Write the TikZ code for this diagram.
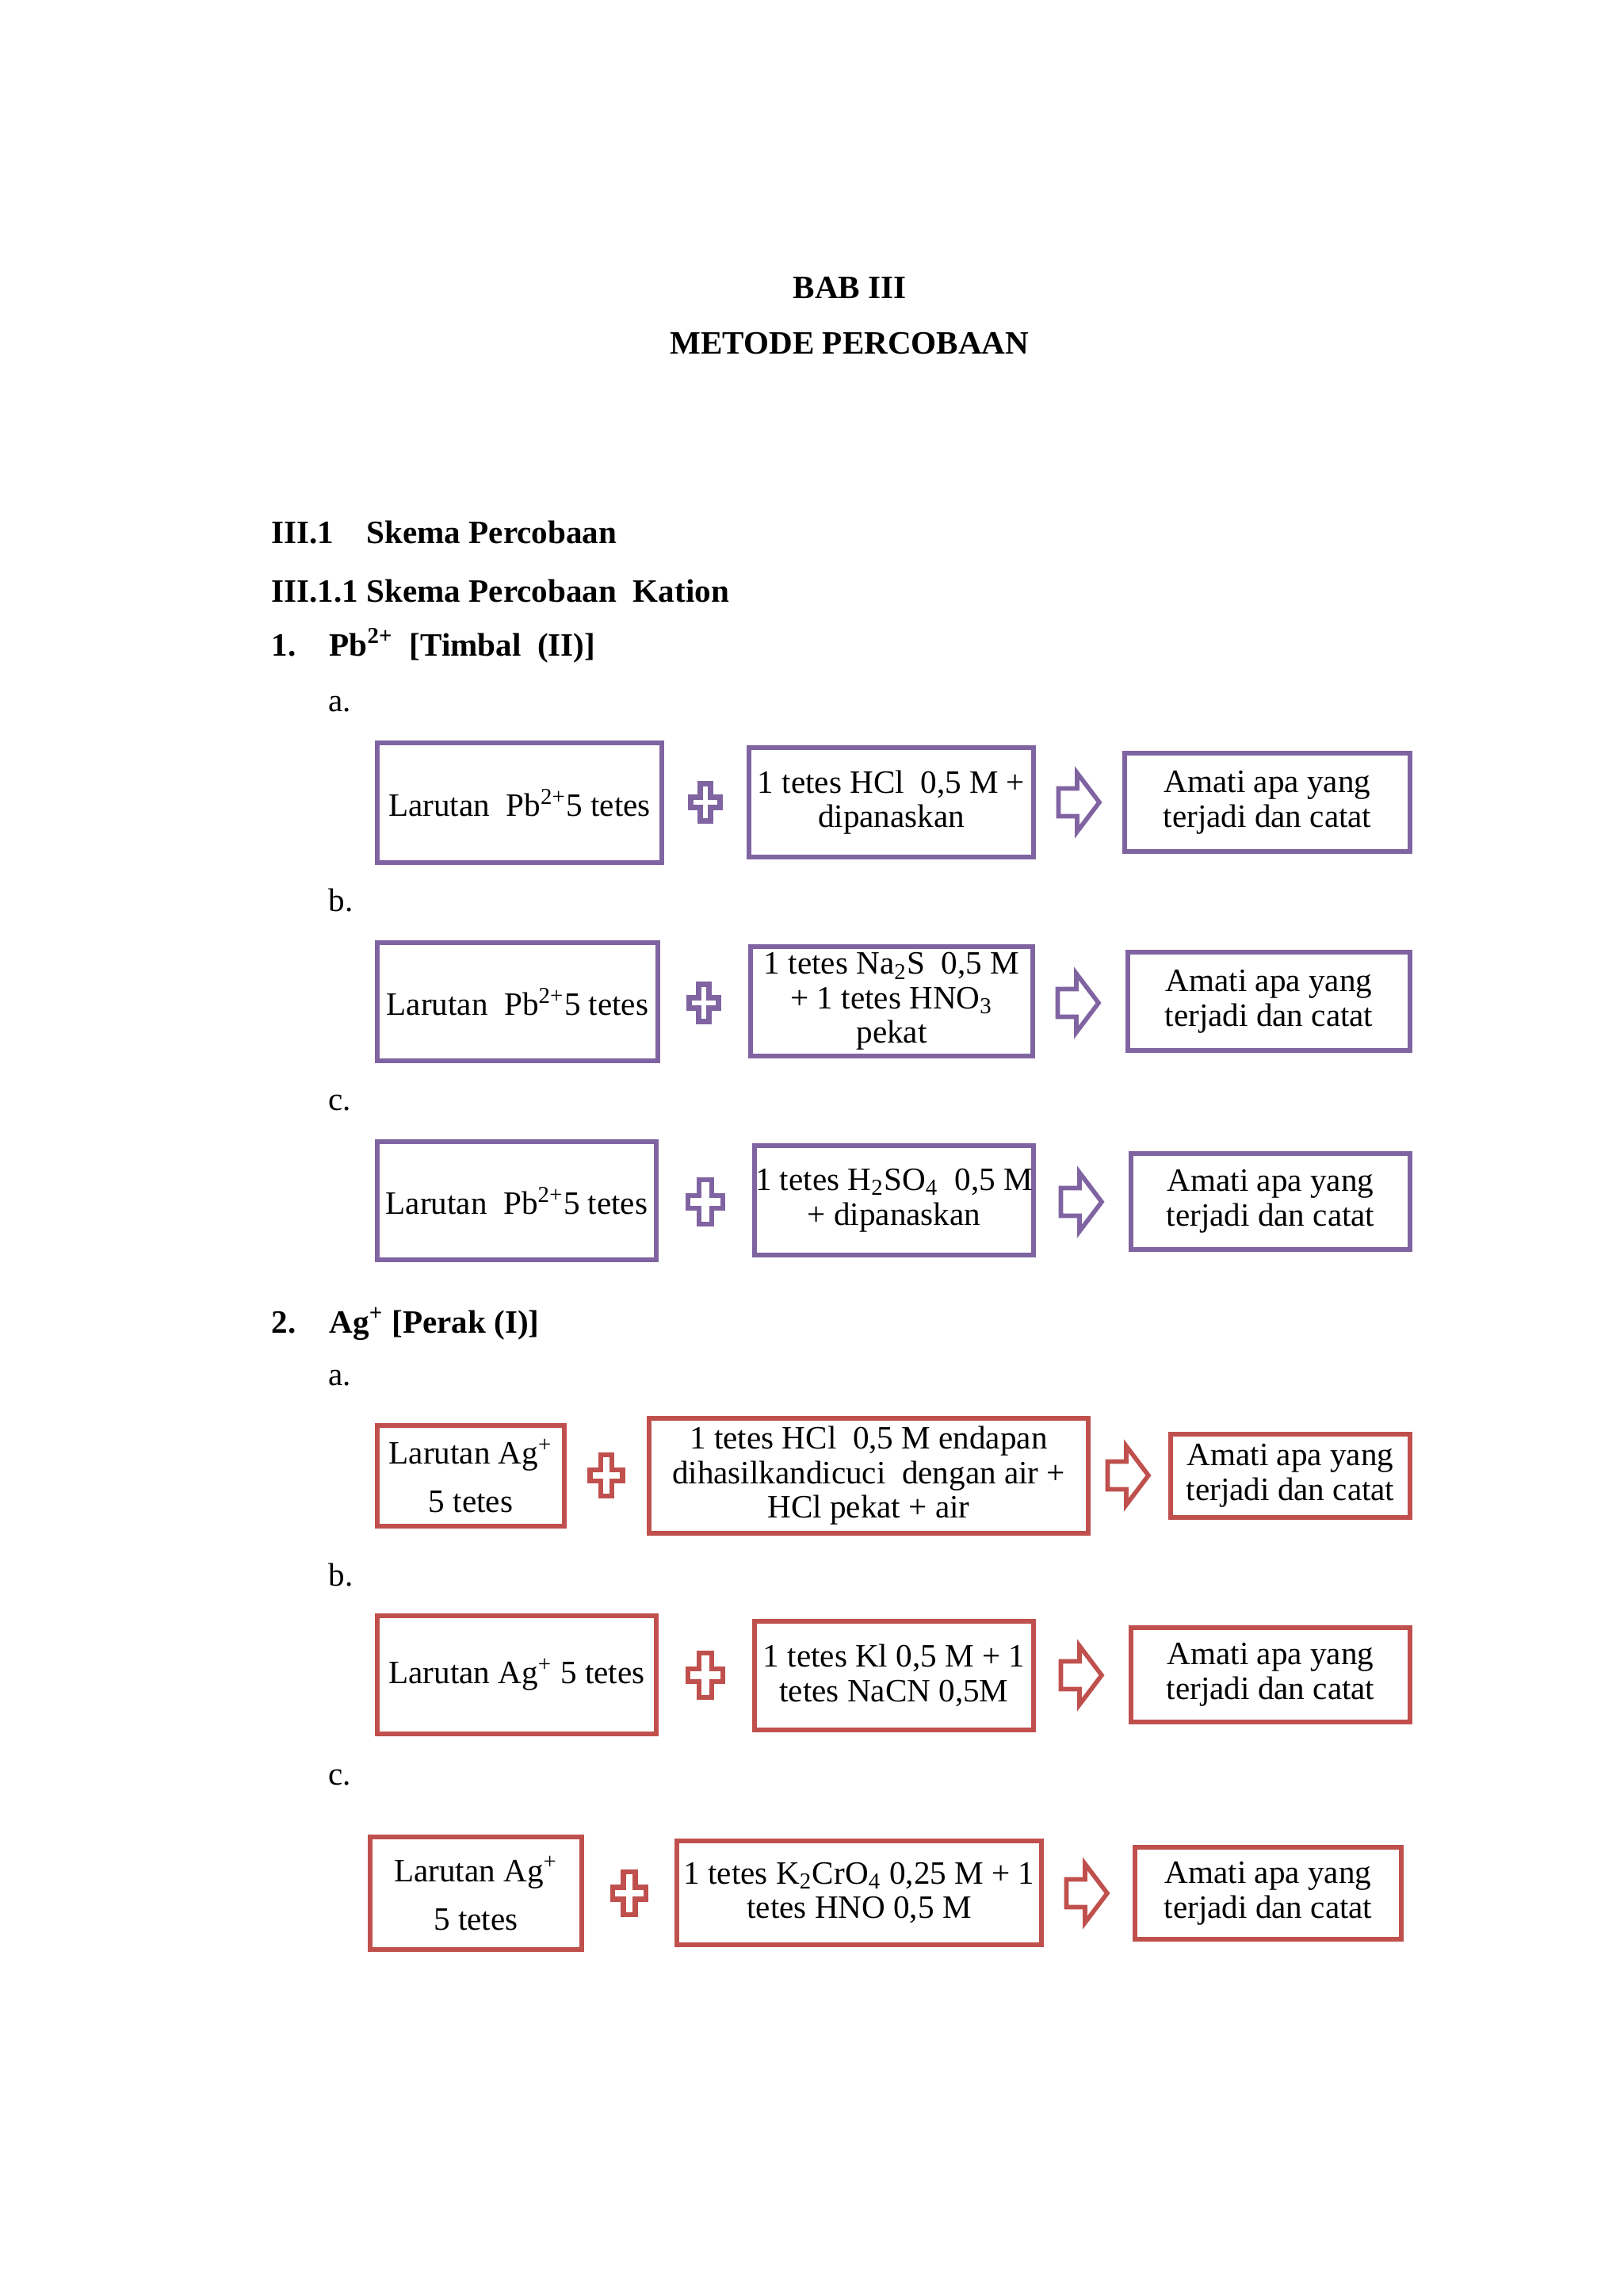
\documentclass[tikz,border=0pt]{standalone}
\usepackage{fontspec}
\setmainfont{Liberation Serif}
\usepackage{tikz}

\definecolor{pbpurple}{HTML}{8064A2}
\definecolor{agred}{HTML}{C0504D}

\begin{document}
\begin{tikzpicture}[
    box/.style={draw, line width=1.6pt, fill=white, align=center, inner sep=0pt,
        font=\fontsize{11.7}{12.4}\selectfont},
    pbbox/.style={box, draw=pbpurple},
    agbox/.style={box, draw=agred},
    heading/.style={anchor=base west, inner sep=0pt, font=\bfseries\fontsize{11.7}{14}\selectfont},
    item/.style={anchor=base west, inner sep=0pt, font=\fontsize{11.7}{14}\selectfont},
    plusmark/.pic={
        \draw[line width=1.8pt, fill=white] (-0.065, 0.235) -- (0.065, 0.235) -- (0.065, 0.065)
            -- (0.185, 0.065) -- (0.185, -0.065) -- (0.065, -0.065) -- (0.065, -0.235)
            -- (-0.065, -0.235) -- (-0.065, -0.065) -- (-0.185, -0.065) -- (-0.185, 0.065)
            -- (-0.065, 0.065) -- cycle;},
    flowarrow/.pic={
        \draw[line width=1.6pt, fill=white] (-0.265, 0.175) -- (-0.03, 0.175) -- (-0.03, 0.37)
            -- (0.25, 0) -- (-0.03, -0.37) -- (-0.03, -0.175) -- (-0.265, -0.175) -- cycle;}
]
    \useasboundingbox[fill=white] (0, 0) rectangle (20.48, -28.96);

    % judul
    \node[heading, anchor=base] (bab) at (10.72, -3.77) {BAB III};
    \node[heading, anchor=base] (metode) at (10.72, -4.47) {METODE PERCOBAAN};
    \node[heading] (sub1) at (3.42, -6.85) {III.1};
    \node[heading] (sub1t) at (4.62, -6.85) {Skema Percobaan};
    \node[heading] (sub2) at (3.42, -7.59) {III.1.1 Skema Percobaan\ \ Kation};

    % 1. Pb
    \node[heading] (no1) at (3.42, -8.27) {1.};
    \node[heading] (pb) at (4.15, -8.27) {Pb\textsuperscript{2+}\ \ [Timbal\ \ (II)]};
    \node[item] (pba) at (4.14, -8.97) {a.};
    \node[pbbox, minimum width=3.59cm, minimum height=1.51cm] (pbA1) at (6.555, -10.125)
        {Larutan\ \ Pb\textsuperscript{2+}5 tetes};
    \node[pbbox, minimum width=3.59cm, minimum height=1.38cm] (pbA2) at (11.245, -10.12)
        {1 tetes HCl\ \ 0,5 M +\\dipanaskan};
    \node[pbbox, minimum width=3.6cm, minimum height=1.24cm] (pbA3) at (15.99, -10.12)
        {Amati\ apa yang\\terjadi\ dan catat};
    \pic[pbpurple] at (8.90, -10.12) {plusmark};
    \pic[pbpurple] at (13.62, -10.12) {flowarrow};

    \node[item] (pbb) at (4.14, -11.49) {b.};
    \node[pbbox, minimum width=3.54cm, minimum height=1.49cm] (pbB1) at (6.53, -12.635)
        {Larutan\ \ Pb\textsuperscript{2+}5 tetes};
    \node[pbbox, minimum width=3.56cm, minimum height=1.38cm] (pbB2) at (11.25, -12.63)
        {1 tetes Na\textsubscript{2}S\ \ 0,5 M\\+ 1 tetes HNO\textsubscript{3}\\pekat};
    \node[pbbox, minimum width=3.56cm, minimum height=1.24cm] (pbB3) at (16.01, -12.63)
        {Amati\ apa yang\\terjadi\ dan catat};
    \pic[pbpurple] at (8.88, -12.65) {plusmark};
    \pic[pbpurple] at (13.61, -12.65) {flowarrow};

    \node[item] (pbc) at (4.14, -14.00) {c.};
    \node[pbbox, minimum width=3.52cm, minimum height=1.49cm] (pbC1) at (6.52, -15.145)
        {Larutan\ \ Pb\textsuperscript{2+}5 tetes};
    \node[pbbox, minimum width=3.52cm, minimum height=1.38cm] (pbC2) at (11.28, -15.14)
        {1 tetes H\textsubscript{2}SO\textsubscript{4}\ \ 0,5 M\\+ dipanaskan};
    \node[pbbox, minimum width=3.52cm, minimum height=1.21cm] (pbC3) at (16.03, -15.155)
        {Amati\ apa yang\\terjadi\ dan catat};
    \pic[pbpurple, scale=1.2] at (8.90, -15.16) {plusmark};
    \pic[pbpurple] at (13.65, -15.16) {flowarrow};

    % 2. Ag
    \node[heading] (no2) at (3.42, -16.81) {2.};
    \node[heading] (ag) at (4.15, -16.81) {Ag\textsuperscript{+} [Perak (I)]};
    \node[item] (aga) at (4.14, -17.47) {a.};
    \node[agbox, minimum width=2.36cm, minimum height=1.27cm] (agA1) at (5.94, -18.615)
        {Larutan\ Ag\textsuperscript{+}\\[5pt]5 tetes};
    \node[agbox, minimum width=5.54cm, minimum height=1.45cm] (agA2) at (10.96, -18.615)
        {1 tetes HCl\ \ 0,5 M endapan\\dihasilkandicuci\ \ dengan\ air +\\HCl pekat + air};
    \node[agbox, minimum width=3.02cm, minimum height=1.05cm] (agA3) at (16.28, -18.615)
        {Amati\ apa yang\\terjadi\ dan catat};
    \pic[agred, scale=1.1] at (7.65, -18.61) {plusmark};
    \pic[agred] at (14.24, -18.61) {flowarrow};

    \node[item] (agb) at (4.14, -20.00) {b.};
    \node[agbox, minimum width=3.52cm, minimum height=1.49cm] (agB1) at (6.52, -21.125)
        {Larutan\ Ag\textsuperscript{+} 5 tetes};
    \node[agbox, minimum width=3.52cm, minimum height=1.37cm] (agB2) at (11.28, -21.135)
        {1 tetes Kl 0,5 M + 1\\tetes NaCN 0,5M};
    \node[agbox, minimum width=3.52cm, minimum height=1.19cm] (agB3) at (16.03, -21.125)
        {Amati\ apa yang\\terjadi\ dan catat};
    \pic[agred, scale=1.2] at (8.90, -21.13) {plusmark};
    \pic[agred] at (13.65, -21.13) {flowarrow};

    \node[item] (agc) at (4.14, -22.51) {c.};
    \node[agbox, minimum width=2.67cm, minimum height=1.42cm] (agC1) at (6.005, -23.88)
        {Larutan\ Ag\textsuperscript{+}\\[5pt]5 tetes};
    \node[agbox, minimum width=4.6cm, minimum height=1.31cm] (agC2) at (10.84, -23.875)
        {1 tetes K\textsubscript{2}CrO\textsubscript{4} 0,25 M + 1\\tetes HNO 0,5 M};
    \node[agbox, minimum width=3.36cm, minimum height=1.16cm] (agC3) at (16.0, -23.88)
        {Amati\ apa yang\\terjadi\ dan catat};
    \pic[agred, scale=1.15] at (7.94, -23.88) {plusmark};
    \pic[agred] at (13.72, -23.88) {flowarrow};
\end{tikzpicture}
\end{document}
